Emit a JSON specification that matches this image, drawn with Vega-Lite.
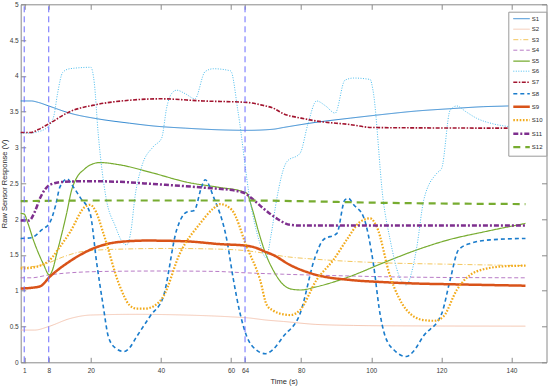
{
  "$schema": "https://vega.github.io/schema/vega-lite/v6.json",
  "autosize": {"type": "none"},
  "padding": {"left": 20.7, "top": 4.3, "right": 3.5, "bottom": 27.7},
  "width": 525.8,
  "height": 358,
  "background": "white",
  "config": {
    "view": {"stroke": null},
    "font": "Liberation Sans",
    "axis": {
      "grid": false,
      "domainColor": "#8a8a8a",
      "tickColor": "#8a8a8a",
      "tickSize": -5,
      "labelColor": "#3a3a3a",
      "labelFontSize": 6.5,
      "labelFont": "Liberation Sans",
      "titleFont": "Liberation Sans",
      "titleFontSize": 7.5,
      "titleFontWeight": "normal",
      "titleColor": "#2a2a2a"
    },
    "legend": {
      "orient": "none",
      "legendX": 487.6,
      "legendY": 7.4,
      "title": null,
      "strokeColor": "#9a9a9a",
      "fillColor": "white",
      "padding": 3.5,
      "rowPadding": 3.5,
      "labelFontSize": 6,
      "labelFont": "Liberation Sans",
      "labelColor": "#2a2a2a",
      "labelOffset": 11,
      "symbolType": "M-1,0H4.5",
      "symbolSize": 36
    }
  },
  "datasets": {
    "series": [
      {"s":"S1","t":0,"v":3.65},{"s":"S1","t":3,"v":3.65},{"s":"S1","t":5,"v":3.63},{"s":"S1","t":8,"v":3.58},{"s":"S1","t":14,"v":3.48},{"s":"S1","t":22,"v":3.4},{"s":"S1","t":31,"v":3.34},{"s":"S1","t":38,"v":3.3},{"s":"S1","t":47,"v":3.27},{"s":"S1","t":58,"v":3.245},{"s":"S1","t":65,"v":3.24},{"s":"S1","t":72,"v":3.255},{"s":"S1","t":75,"v":3.28},{"s":"S1","t":84,"v":3.35},{"s":"S1","t":94,"v":3.41},{"s":"S1","t":103,"v":3.46},{"s":"S1","t":113,"v":3.51},{"s":"S1","t":122,"v":3.54},{"s":"S1","t":132,"v":3.57},{"s":"S1","t":139,"v":3.58},{"s":"S1","t":144,"v":3.59},

      {"s":"S2","t":0,"v":0.45},{"s":"S2","t":4,"v":0.45},{"s":"S2","t":8,"v":0.5},{"s":"S2","t":14,"v":0.61},{"s":"S2","t":20,"v":0.66},{"s":"S2","t":33,"v":0.67},{"s":"S2","t":47,"v":0.66},{"s":"S2","t":60,"v":0.635},{"s":"S2","t":65,"v":0.62},{"s":"S2","t":70,"v":0.59},{"s":"S2","t":75,"v":0.57},{"s":"S2","t":84,"v":0.53},{"s":"S2","t":95,"v":0.515},{"s":"S2","t":103,"v":0.51},{"s":"S2","t":144,"v":0.505},

      {"s":"S3","t":0,"v":1.33},{"s":"S3","t":4,"v":1.34},{"s":"S3","t":8,"v":1.39},{"s":"S3","t":12,"v":1.47},{"s":"S3","t":18,"v":1.55},{"s":"S3","t":28,"v":1.58},{"s":"S3","t":42,"v":1.59},{"s":"S3","t":57,"v":1.58},{"s":"S3","t":64,"v":1.56},{"s":"S3","t":70,"v":1.52},{"s":"S3","t":75,"v":1.48},{"s":"S3","t":84,"v":1.44},{"s":"S3","t":103,"v":1.39},{"s":"S3","t":122,"v":1.37},{"s":"S3","t":144,"v":1.35},

      {"s":"S4","t":0,"v":1.18},{"s":"S4","t":3,"v":1.18},{"s":"S4","t":8,"v":1.22},{"s":"S4","t":14,"v":1.25},{"s":"S4","t":25,"v":1.27},{"s":"S4","t":40,"v":1.275},{"s":"S4","t":55,"v":1.27},{"s":"S4","t":64,"v":1.25},{"s":"S4","t":75,"v":1.23},{"s":"S4","t":90,"v":1.21},{"s":"S4","t":110,"v":1.19},{"s":"S4","t":144,"v":1.18},

      {"s":"S5","t":0,"v":2.08},{"s":"S5","t":1,"v":2.07},{"s":"S5","t":2,"v":1.95},{"s":"S5","t":3.6,"v":1.71},{"s":"S5","t":6.4,"v":1.38},{"s":"S5","t":8.2,"v":1.22},{"s":"S5","t":9,"v":1.28},{"s":"S5","t":10.3,"v":1.52},{"s":"S5","t":13.1,"v":2.08},{"s":"S5","t":14.5,"v":2.4},{"s":"S5","t":16,"v":2.58},{"s":"S5","t":18,"v":2.69},{"s":"S5","t":20,"v":2.76},{"s":"S5","t":22.6,"v":2.79},{"s":"S5","t":28,"v":2.76},{"s":"S5","t":38,"v":2.64},{"s":"S5","t":47,"v":2.52},{"s":"S5","t":57,"v":2.44},{"s":"S5","t":63,"v":2.39},{"s":"S5","t":64.5,"v":2.36},{"s":"S5","t":66,"v":2.15},{"s":"S5","t":68,"v":1.8},{"s":"S5","t":70,"v":1.5},{"s":"S5","t":72,"v":1.29},{"s":"S5","t":75,"v":1.08},{"s":"S5","t":77.5,"v":1.02},{"s":"S5","t":80,"v":1.01},{"s":"S5","t":84,"v":1.05},{"s":"S5","t":94,"v":1.2},{"s":"S5","t":103,"v":1.38},{"s":"S5","t":113,"v":1.57},{"s":"S5","t":122,"v":1.71},{"s":"S5","t":132,"v":1.82},{"s":"S5","t":144,"v":1.94},

      {"s":"S6","t":0,"v":3.2},{"s":"S6","t":2,"v":3.2},{"s":"S6","t":5,"v":3.22},{"s":"S6","t":8,"v":3.3},{"s":"S6","t":9.5,"v":3.45},{"s":"S6","t":10.5,"v":3.75},{"s":"S6","t":12,"v":4.05},{"s":"S6","t":14,"v":4.1},{"s":"S6","t":20,"v":4.12},{"s":"S6","t":21,"v":3.9},{"s":"S6","t":22.1,"v":3.2},{"s":"S6","t":24.3,"v":2.31},{"s":"S6","t":27,"v":1.9},{"s":"S6","t":29,"v":1.68},{"s":"S6","t":30.2,"v":1.64},{"s":"S6","t":31.5,"v":1.85},{"s":"S6","t":32.6,"v":2.31},{"s":"S6","t":34.5,"v":2.73},{"s":"S6","t":37.8,"v":3.01},{"s":"S6","t":40.2,"v":3.13},{"s":"S6","t":41.7,"v":3.57},{"s":"S6","t":43,"v":3.75},{"s":"S6","t":44.5,"v":3.8},{"s":"S6","t":47,"v":3.75},{"s":"S6","t":49.7,"v":3.68},{"s":"S6","t":52.6,"v":4.06},{"s":"S6","t":55,"v":4.1},{"s":"S6","t":59.9,"v":4.07},{"s":"S6","t":62,"v":3.5},{"s":"S6","t":65.4,"v":2.27},{"s":"S6","t":68,"v":1.7},{"s":"S6","t":70,"v":1.46},{"s":"S6","t":71.5,"v":1.8},{"s":"S6","t":73,"v":2.27},{"s":"S6","t":75.9,"v":2.8},{"s":"S6","t":79.7,"v":2.92},{"s":"S6","t":82,"v":3.34},{"s":"S6","t":84.4,"v":3.65},{"s":"S6","t":87,"v":3.58},{"s":"S6","t":89.7,"v":3.48},{"s":"S6","t":92.5,"v":3.94},{"s":"S6","t":95,"v":3.97},{"s":"S6","t":99.7,"v":3.95},{"s":"S6","t":100.5,"v":3.8},{"s":"S6","t":103.4,"v":2.27},{"s":"S6","t":105.4,"v":1.71},{"s":"S6","t":108,"v":1.2},{"s":"S6","t":110,"v":1.08},{"s":"S6","t":111.5,"v":1.25},{"s":"S6","t":113,"v":1.61},{"s":"S6","t":115,"v":2.27},{"s":"S6","t":118.7,"v":2.64},{"s":"S6","t":120.1,"v":2.71},{"s":"S6","t":122.5,"v":3.52},{"s":"S6","t":124.4,"v":3.58},{"s":"S6","t":127,"v":3.5},{"s":"S6","t":130,"v":3.41},{"s":"S6","t":134.8,"v":3.33},{"s":"S6","t":139.5,"v":3.29},{"s":"S6","t":144,"v":3.26},

      {"s":"S7","t":0,"v":3.21},{"s":"S7","t":3,"v":3.21},{"s":"S7","t":5,"v":3.25},{"s":"S7","t":8,"v":3.33},{"s":"S7","t":14,"v":3.5},{"s":"S7","t":21.7,"v":3.6},{"s":"S7","t":31,"v":3.66},{"s":"S7","t":40,"v":3.68},{"s":"S7","t":52,"v":3.65},{"s":"S7","t":64.5,"v":3.63},{"s":"S7","t":69,"v":3.59},{"s":"S7","t":72,"v":3.55},{"s":"S7","t":75,"v":3.47},{"s":"S7","t":80,"v":3.41},{"s":"S7","t":84.4,"v":3.37},{"s":"S7","t":94,"v":3.32},{"s":"S7","t":100,"v":3.28},{"s":"S7","t":110,"v":3.275},{"s":"S7","t":144,"v":3.27},

      {"s":"S8","t":0,"v":1.73},{"s":"S8","t":3,"v":1.74},{"s":"S8","t":6,"v":1.85},{"s":"S8","t":8.4,"v":1.96},{"s":"S8","t":10,"v":2.2},{"s":"S8","t":11.2,"v":2.45},{"s":"S8","t":13.3,"v":2.56},{"s":"S8","t":15,"v":2.45},{"s":"S8","t":17,"v":2.3},{"s":"S8","t":19.8,"v":2.08},{"s":"S8","t":21.7,"v":1.38},{"s":"S8","t":23.5,"v":0.8},{"s":"S8","t":25,"v":0.36},{"s":"S8","t":27,"v":0.2},{"s":"S8","t":29.5,"v":0.15},{"s":"S8","t":31,"v":0.2},{"s":"S8","t":33.1,"v":0.36},{"s":"S8","t":37,"v":0.65},{"s":"S8","t":40.7,"v":0.92},{"s":"S8","t":44.5,"v":1.85},{"s":"S8","t":47.4,"v":2.1},{"s":"S8","t":49.5,"v":2.12},{"s":"S8","t":51.6,"v":2.45},{"s":"S8","t":52.6,"v":2.55},{"s":"S8","t":55,"v":2.31},{"s":"S8","t":58.8,"v":1.71},{"s":"S8","t":60.7,"v":1.15},{"s":"S8","t":62.5,"v":0.7},{"s":"S8","t":64.5,"v":0.36},{"s":"S8","t":67,"v":0.18},{"s":"S8","t":69.8,"v":0.12},{"s":"S8","t":72,"v":0.18},{"s":"S8","t":74.9,"v":0.36},{"s":"S8","t":79.7,"v":0.68},{"s":"S8","t":84,"v":1.47},{"s":"S8","t":86.3,"v":1.71},{"s":"S8","t":90.2,"v":1.8},{"s":"S8","t":92.5,"v":2.27},{"s":"S8","t":93.5,"v":2.29},{"s":"S8","t":95,"v":2.2},{"s":"S8","t":97.8,"v":2.03},{"s":"S8","t":100.6,"v":1.38},{"s":"S8","t":102.5,"v":0.68},{"s":"S8","t":104,"v":0.36},{"s":"S8","t":107,"v":0.15},{"s":"S8","t":110,"v":0.08},{"s":"S8","t":112,"v":0.15},{"s":"S8","t":114.8,"v":0.36},{"s":"S8","t":120.1,"v":0.68},{"s":"S8","t":122.5,"v":1.15},{"s":"S8","t":124.9,"v":1.57},{"s":"S8","t":128.2,"v":1.66},{"s":"S8","t":133.9,"v":1.71},{"s":"S8","t":144,"v":1.73},

      {"s":"S9","t":0,"v":1.03},{"s":"S9","t":3,"v":1.04},{"s":"S9","t":5.5,"v":1.06},{"s":"S9","t":8.4,"v":1.2},{"s":"S9","t":14,"v":1.41},{"s":"S9","t":20.7,"v":1.59},{"s":"S9","t":28,"v":1.68},{"s":"S9","t":36,"v":1.7},{"s":"S9","t":47,"v":1.69},{"s":"S9","t":57,"v":1.65},{"s":"S9","t":64,"v":1.63},{"s":"S9","t":66.4,"v":1.61},{"s":"S9","t":70,"v":1.54},{"s":"S9","t":72,"v":1.5},{"s":"S9","t":76.8,"v":1.36},{"s":"S9","t":84.4,"v":1.22},{"s":"S9","t":94,"v":1.15},{"s":"S9","t":103.4,"v":1.12},{"s":"S9","t":113,"v":1.1},{"s":"S9","t":122.5,"v":1.09},{"s":"S9","t":144,"v":1.07},

      {"s":"S10","t":0,"v":1.31},{"s":"S10","t":3,"v":1.32},{"s":"S10","t":8.1,"v":1.42},{"s":"S10","t":11,"v":1.6},{"s":"S10","t":14.1,"v":1.82},{"s":"S10","t":18.3,"v":2.17},{"s":"S10","t":19.8,"v":2.2},{"s":"S10","t":21.5,"v":2.1},{"s":"S10","t":23.6,"v":1.8},{"s":"S10","t":28.3,"v":1.06},{"s":"S10","t":31,"v":0.8},{"s":"S10","t":33.1,"v":0.75},{"s":"S10","t":35.5,"v":0.75},{"s":"S10","t":37.8,"v":0.78},{"s":"S10","t":40.7,"v":0.92},{"s":"S10","t":45.4,"v":1.52},{"s":"S10","t":51.2,"v":1.94},{"s":"S10","t":55,"v":2.15},{"s":"S10","t":56.9,"v":2.21},{"s":"S10","t":60.2,"v":2.13},{"s":"S10","t":64.5,"v":1.61},{"s":"S10","t":68.3,"v":1.15},{"s":"S10","t":70.2,"v":0.8},{"s":"S10","t":72.1,"v":0.72},{"s":"S10","t":74.9,"v":0.67},{"s":"S10","t":77,"v":0.66},{"s":"S10","t":79.7,"v":0.73},{"s":"S10","t":84.4,"v":1.15},{"s":"S10","t":89.2,"v":1.43},{"s":"S10","t":93,"v":1.71},{"s":"S10","t":96.8,"v":1.96},{"s":"S10","t":99.7,"v":2.01},{"s":"S10","t":101.6,"v":1.89},{"s":"S10","t":105.4,"v":1.2},{"s":"S10","t":110.1,"v":0.73},{"s":"S10","t":114.9,"v":0.59},{"s":"S10","t":118,"v":0.58},{"s":"S10","t":120.6,"v":0.64},{"s":"S10","t":124.4,"v":1.01},{"s":"S10","t":130.1,"v":1.27},{"s":"S10","t":137.7,"v":1.34},{"s":"S10","t":144,"v":1.35},

      {"s":"S11","t":0,"v":1.98},{"s":"S11","t":2.4,"v":1.98},{"s":"S11","t":4,"v":2.1},{"s":"S11","t":5.5,"v":2.29},{"s":"S11","t":8.4,"v":2.48},{"s":"S11","t":12.2,"v":2.52},{"s":"S11","t":20,"v":2.53},{"s":"S11","t":28.3,"v":2.52},{"s":"S11","t":37.8,"v":2.49},{"s":"S11","t":52,"v":2.44},{"s":"S11","t":62,"v":2.39},{"s":"S11","t":64,"v":2.36},{"s":"S11","t":66.4,"v":2.27},{"s":"S11","t":69.2,"v":2.15},{"s":"S11","t":73,"v":2.01},{"s":"S11","t":76.8,"v":1.92},{"s":"S11","t":80,"v":1.91},{"s":"S11","t":144,"v":1.91},

      {"s":"S12","t":0,"v":2.25},{"s":"S12","t":20,"v":2.26},{"s":"S12","t":64,"v":2.26},{"s":"S12","t":80,"v":2.25},{"s":"S12","t":100,"v":2.23},{"s":"S12","t":144,"v":2.21}
    ],
    "markers": [{"x": 1}, {"x": 8}, {"x": 64}]
  },
  "layer": [
    {
      "data": {"name": "series"},
      "mark": {"type": "line", "interpolate": "monotone"},
      "encoding": {
        "x": {
          "field": "t", "type": "quantitative",
          "scale": {"domain": [0, 150], "nice": false, "zero": false},
          "axis": {"orient": "bottom", "title": "Time (s)", "values": [1, 8, 20, 40, 60, 64, 80, 100, 120, 140], "labelPadding": 10, "titlePadding": 4, "labelFlush": false, "labelOverlap": false}
        },
        "y": {
          "field": "v", "type": "quantitative",
          "scale": {"domain": [0, 5], "nice": false},
          "axis": {"orient": "left", "title": "Raw Sensor Response (V)", "values": [0, 0.5, 1, 1.5, 2, 2.5, 3, 3.5, 4, 4.5, 5], "format": "~g", "labelPadding": 7.5, "titlePadding": 1, "labelFlush": false, "labelOverlap": false}
        },
        "color": {
          "field": "s", "type": "nominal",
          "scale": {
            "domain": ["S1","S2","S3","S4","S5","S6","S7","S8","S9","S10","S11","S12"],
            "range": ["#2e86d0","#f3c2ad","#f2c04a","#b06cc0","#77ac30","#4dbeee","#a2142f","#1a7ccc","#d95319","#f2aa1a","#7e2f8e","#77ac30"]
          }
        },
        "strokeDash": {
          "field": "s", "type": "nominal",
          "scale": {
            "domain": ["S1","S2","S3","S4","S5","S6","S7","S8","S9","S10","S11","S12"],
            "range": [[1,0],[1,0],[5,2,1,2],[4,2.5],[1,0],[1,1.5],[4,1.5,1.5,1.5],[4,3],[1,0],[1.6,1.6],[5,2,2,2],[7,5]]
          }
        },
        "strokeWidth": {
          "field": "s", "type": "nominal",
          "scale": {
            "type": "ordinal",
            "domain": ["S1","S2","S3","S4","S5","S6","S7","S8","S9","S10","S11","S12"],
            "range": [1, 0.9, 0.9, 0.9, 1.2, 1, 1.6, 1.6, 2.5, 2.2, 2.5, 2.2]
          }
        },
        "order": {"field": "t", "type": "quantitative"}
      }
    },
    {
      "data": {"name": "markers"},
      "mark": {"type": "rule", "color": "#6b6bff", "strokeDash": [6, 4], "strokeWidth": 1},
      "encoding": {
        "x": {
          "field": "x", "type": "quantitative",
          "axis": {"orient": "top", "title": null, "labels": false, "values": [1, 8, 20, 40, 60, 64, 80, 100, 120, 140]}
        },
        "y": {"datum": 0, "axis": {"orient": "right", "title": null, "labels": false, "values": [0, 0.5, 1, 1.5, 2, 2.5, 3, 3.5, 4, 4.5, 5]}},
        "y2": {"datum": 5}
      }
    }
  ],
  "resolve": {"axis": {"x": "independent", "y": "independent"}}
}
